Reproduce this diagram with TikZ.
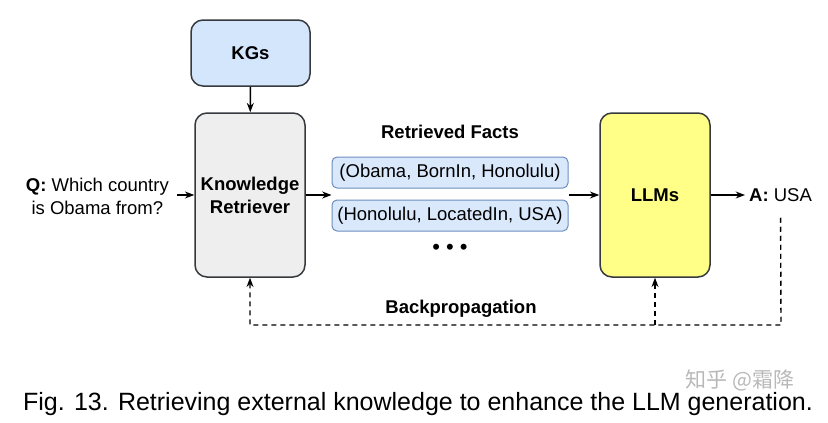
\documentclass[tikz,border=0pt]{standalone}
\usepackage{fontspec}
\setmainfont{Liberation Sans}
\newfontfamily\cjkfont{Noto Sans CJK SC}
\usepackage{xcolor}
\usetikzlibrary{arrows.meta}
\definecolor{kgblue}{HTML}{D4E6FC}
\definecolor{factblue}{HTML}{DAE8FC}
\definecolor{factedge}{HTML}{6C8EBF}
\definecolor{retgray}{HTML}{EEEEEE}
\definecolor{llmyellow}{HTML}{FFFF88}
\definecolor{edgegray}{HTML}{36393D}

\begin{document}
\begin{tikzpicture}[x=1pt, y=-1pt, >=Stealth,
    every node/.style={font=\fontsize{18.5}{23}\selectfont},
    block/.style={draw=edgegray, line width=1.5pt, rounded corners=12pt, inner sep=0pt, align=center, font=\fontsize{18.5}{23}\selectfont\bfseries},
    fact/.style={draw=factedge, fill=factblue, line width=1pt, rounded corners=5pt, inner sep=0pt, minimum width=236pt, minimum height=31pt},
    link/.style={->, line width=1.4pt},
    back/.style={->, line width=1.4pt, dash pattern=on 5pt off 4pt}]
    \useasboundingbox (0,0) rectangle (828,423);
    \node[block, fill=kgblue, minimum width=119pt, minimum height=66pt] (kg) at (250.5,53) {KGs};
    \node[block, fill=retgray, minimum width=110pt, minimum height=164pt] (kr) at (250,195) {Knowledge\\Retriever};
    \node[block, fill=llmyellow, minimum width=110pt, minimum height=164pt] (llm) at (655,195) {LLMs};
    \node[fact] (f1) at (450,172.5) {(Obama, BornIn, Honolulu)};
    \node[fact] (f2) at (450,215.5) {(Honolulu, LocatedIn, USA)};
    \node[font=\fontsize{18.5}{23}\selectfont\bfseries] (rf) at (450,132) {Retrieved Facts};
    \node[font=\fontsize{22}{23}\selectfont] (dots) at (450,249) {•\hspace{6pt}•\hspace{6pt}•};
    \node[anchor=east, inner sep=0pt, align=center] (q) at (169,196.5) {\textbf{Q:} Which country\\is Obama from?};
    \node[anchor=west, inner sep=4pt] (ans) at (745,195) {\textbf{A:} USA};
    \node[font=\fontsize{18.5}{23}\selectfont\bfseries] (bp) at (461,309) {Backpropagation};
    \coordinate (low) at (781,325);
    \draw[link] (kg) -- (kr);
    \draw[link, shorten <=8pt] (q.east |- kr.west) -- (kr.west);
    \draw[link] (kr.east) -- (kr.east -| f1.west);
    \draw[link] (kr.east -| f1.east) -- (llm.west);
    \draw[link] (llm) -- (ans);
    \draw[back, shorten <=12pt] (ans.south) -- (low) -- (kr.south |- low) -- (kr.south);
    \draw[back] (llm.south |- low) -- (llm.south);
    \node[text=black!28, font=\fontsize{21}{24}\selectfont\cjkfont] (mark) at (740,380) {知乎 @霜降};
    \node[font=\fontsize{25}{30}\selectfont] (cap) at (418,404) {Fig. 13. Retrieving external knowledge to enhance the LLM generation.};
\end{tikzpicture}
\end{document}
